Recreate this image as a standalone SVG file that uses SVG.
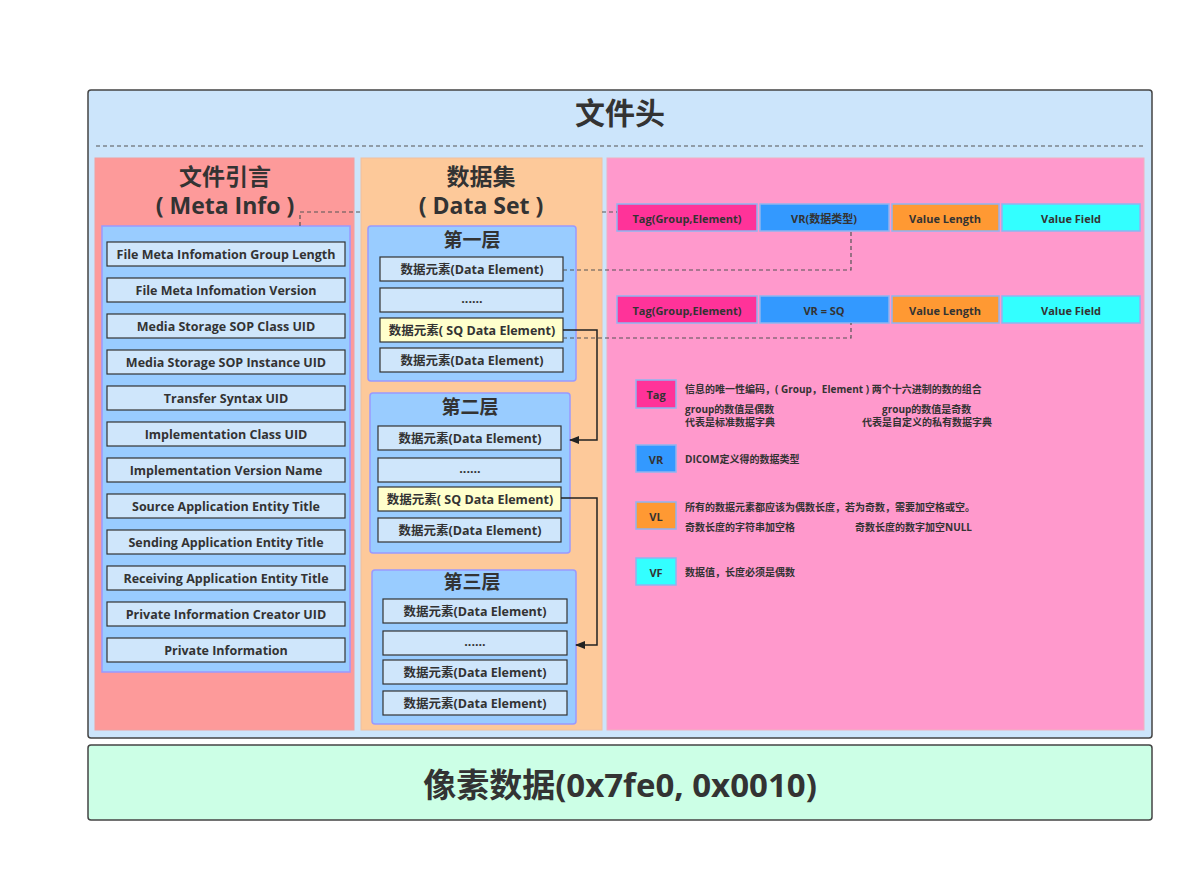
<svg xmlns="http://www.w3.org/2000/svg" width="1200" height="869" viewBox="0 0 1200 869">
<style>
text{font-family:"Open Sans","Noto Sans CJK SC",sans-serif;font-weight:bold;fill:#333;text-anchor:middle;dominant-baseline:central}
.it{fill:#cfe6fb;stroke:#333;stroke-width:1.2}
.t13{font-size:12.5px}
.lay{fill:#99ccff;stroke:#9999ff;stroke-width:1.5}
.lt{font-size:19px}
.f{stroke:#8fb5f0;stroke-width:1.5}
.s{font-size:11px}
.d{font-size:10px;text-anchor:start}
.dash{fill:none;stroke:#555;stroke-dasharray:4 3;stroke-width:1.2}
.sol{fill:none;stroke:#222;stroke-width:1.5}
</style>
<defs><marker id="a" markerWidth="10" markerHeight="8" refX="9" refY="4" orient="auto" markerUnits="userSpaceOnUse"><path d="M0,0L10,4L0,8z" fill="#222"/></marker></defs>
<rect width="1200" height="869" fill="#fff"/>
<g id="header">
<rect x="88" y="90" width="1064" height="648" rx="3" fill="#cce5fb" stroke="#444" stroke-width="1.5"/>
<line x1="96" y1="146" x2="1144" y2="146" class="dash"/>
<text x="620" y="112" style="font-size:30px">文件头</text>
</g>
<g id="meta">
<rect x="95" y="158" width="259" height="572" fill="#fd9a9a" stroke="#f0a0a0"/>
<text x="225" y="176" style="font-size:23px">文件引言</text>
<text x="225" y="205" style="font-size:23px">( Meta Info )</text>
<rect x="102" y="226" width="248" height="446" class="lay"/>
<g class="t13">
<rect class="it" x="107" y="242" width="238" height="24"/><text x="226" y="254">File Meta Infomation Group Length</text>
<rect class="it" x="107" y="278" width="238" height="24"/><text x="226" y="290">File Meta Infomation Version</text>
<rect class="it" x="107" y="314" width="238" height="24"/><text x="226" y="326">Media Storage SOP Class UID</text>
<rect class="it" x="107" y="350" width="238" height="24"/><text x="226" y="362">Media Storage SOP Instance UID</text>
<rect class="it" x="107" y="386" width="238" height="24"/><text x="226" y="398">Transfer Syntax UID</text>
<rect class="it" x="107" y="422" width="238" height="24"/><text x="226" y="434">Implementation Class UID</text>
<rect class="it" x="107" y="458" width="238" height="24"/><text x="226" y="470">Implementation Version Name</text>
<rect class="it" x="107" y="494" width="238" height="24"/><text x="226" y="506">Source Application Entity Title</text>
<rect class="it" x="107" y="530" width="238" height="24"/><text x="226" y="542">Sending Application Entity Title</text>
<rect class="it" x="107" y="566" width="238" height="24"/><text x="226" y="578">Receiving Application Entity Title</text>
<rect class="it" x="107" y="602" width="238" height="24"/><text x="226" y="614">Private Information Creator UID</text>
<rect class="it" x="107" y="638" width="238" height="24"/><text x="226" y="650">Private Information</text>
</g>
</g>
<g id="dataset">
<rect x="361" y="158" width="241" height="572" fill="#fdc99a" stroke="#f0c0a0"/>
<text x="481" y="176" style="font-size:23px">数据集</text>
<text x="481" y="205" style="font-size:23px">( Data Set )</text>
</g>
<g id="layer1" class="t13">
<rect x="368" y="226" width="208" height="155" rx="3" class="lay"/>
<text x="472" y="240" class="lt">第一层</text>
<rect class="it" x="380" y="257" width="183" height="24"/><text x="472" y="269">数据元素(Data Element)</text>
<rect class="it" x="380" y="288" width="183" height="24"/><text x="472" y="298">......</text>
<rect class="it" x="380" y="318" width="183" height="24" style="fill:#ffffcc"/><text x="472" y="330">数据元素( SQ Data Element)</text>
<rect class="it" x="380" y="348" width="183" height="24"/><text x="472" y="360">数据元素(Data Element)</text>
</g>
<g id="layer2" class="t13">
<rect x="370" y="393" width="200" height="160" rx="3" class="lay"/>
<text x="470" y="407" class="lt">第二层</text>
<rect class="it" x="378" y="426" width="183" height="24"/><text x="470" y="438">数据元素(Data Element)</text>
<rect class="it" x="378" y="458" width="183" height="24"/><text x="470" y="468">......</text>
<rect class="it" x="378" y="487" width="183" height="24" style="fill:#ffffcc"/><text x="470" y="499">数据元素( SQ Data Element)</text>
<rect class="it" x="378" y="518" width="183" height="24"/><text x="470" y="530">数据元素(Data Element)</text>
</g>
<g id="layer3" class="t13">
<rect x="372" y="570" width="204" height="154" rx="3" class="lay"/>
<text x="472" y="582" class="lt">第三层</text>
<rect class="it" x="383" y="599" width="184" height="24"/><text x="475" y="611">数据元素(Data Element)</text>
<rect class="it" x="383" y="631" width="184" height="24"/><text x="475" y="641">......</text>
<rect class="it" x="383" y="660" width="184" height="24"/><text x="475" y="672">数据元素(Data Element)</text>
<rect class="it" x="383" y="691" width="184" height="24"/><text x="475" y="703">数据元素(Data Element)</text>
</g>
<g id="element">
<rect x="607" y="158" width="537" height="572" fill="#ff99cc" stroke="#f0b0c0"/>
<g class="s">
<rect class="f" x="617" y="204" width="140" height="27" fill="#ff3399"/><text x="687" y="218">Tag(Group,Element)</text>
<rect class="f" x="760" y="204" width="129" height="27" fill="#3399ff"/><text x="824" y="218">VR(数据类型)</text>
<rect class="f" x="892" y="204" width="107" height="27" fill="#ff9933"/><text x="945" y="218">Value Length</text>
<rect class="f" x="1002" y="204" width="138" height="27" fill="#33ffff"/><text x="1071" y="218">Value Field</text>
<rect class="f" x="617" y="296" width="140" height="27" fill="#ff3399"/><text x="687" y="310">Tag(Group,Element)</text>
<rect class="f" x="760" y="296" width="129" height="27" fill="#3399ff"/><text x="824" y="310">VR = SQ</text>
<rect class="f" x="892" y="296" width="107" height="27" fill="#ff9933"/><text x="945" y="310">Value Length</text>
<rect class="f" x="1002" y="296" width="138" height="27" fill="#33ffff"/><text x="1071" y="310">Value Field</text>
<rect class="f" x="636" y="380" width="40" height="28" fill="#ff3399"/><text x="656" y="394">Tag</text>
<rect class="f" x="636" y="445" width="40" height="27" fill="#3399ff"/><text x="656" y="459">VR</text>
<rect class="f" x="636" y="502" width="40" height="27" fill="#ff9933"/><text x="656" y="516">VL</text>
<rect class="f" x="636" y="558" width="40" height="27" fill="#33ffff"/><text x="656" y="572">VF</text>
</g>
<text class="d" x="685" y="389">信息的唯一性编码，( Group，Element ) 两个十六进制的数的组合</text>
<text class="d" x="685" y="409">group的数值是偶数</text>
<text class="d" x="685" y="422">代表是标准数据字典</text>
<text class="d" x="882" y="409">group的数值是奇数</text>
<text class="d" x="862" y="422">代表是自定义的私有数据字典</text>
<text class="d" x="685" y="459">DICOM定义得的数据类型</text>
<text class="d" x="685" y="507">所有的数据元素都应该为偶数长度，若为奇数，需要加空格或空。</text>
<text class="d" x="685" y="527">奇数长度的字符串加空格</text>
<text class="d" x="855" y="527">奇数长度的数字加空NULL</text>
<text class="d" x="685" y="572">数据值，长度必须是偶数</text>
</g>
<g id="pixel">
<rect x="88" y="745" width="1064" height="75" rx="3" fill="#ccffe6" stroke="#444" stroke-width="1.5"/>
<text x="620" y="784" style="font-size:33px">像素数据(0x7fe0, 0x0010)</text>
</g>
<g id="connectors">
<path class="dash" d="M300,226V212H361M602,212H617"/>
<path class="dash" d="M563,270H851V232"/>
<path class="dash" d="M563,338H851V323"/>
<path class="sol" d="M563,330H597V440H570" marker-end="url(#a)"/>
<path class="sol" d="M561,498H597V645H576" marker-end="url(#a)"/>
</g>
</svg>
